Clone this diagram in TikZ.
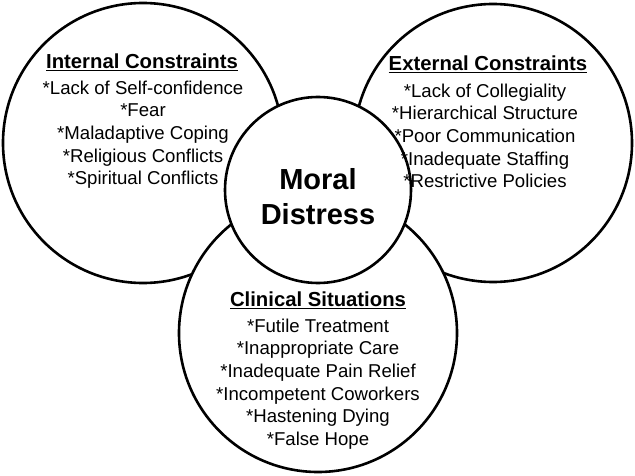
\documentclass[tikz,border=0pt]{standalone}
\usepackage{fontspec}
\setmainfont{Liberation Sans}
\begin{document}
\begin{tikzpicture}[x=1pt,y=-1pt,
  circ/.style={draw=black,line width=2.6pt,fill=white},
  ttl/.style={font=\fontsize{20.3}{22}\selectfont\bfseries},
  itm/.style={font=\fontsize{18.6}{22.7}\selectfont,align=center}]
\useasboundingbox (0,0) rectangle (635,476);
\node[circ,circle,minimum size=280pt] (L) at (143,143) {};
\node[circ,circle,minimum size=278pt] (R) at (493,143) {};
\node[circ,circle,minimum size=278pt] (B) at (318,333) {};
\node[circ,circle,minimum size=186pt] (C) at (318,190) {};
\node[font=\fontsize{29}{35}\selectfont\bfseries,align=center] (m) at (318,197) {Moral\\Distress};
\node[ttl] (lt) at (142,62) {\underline{Internal Constraints}};
\node[itm,anchor=north] (li) at (143,77) {*Lack of Self-confidence\\*Fear\\*Maladaptive Coping\\*Religious Conflicts\\*Spiritual Conflicts};
\node[ttl] (rt) at (488,64) {\underline{External Constraints}};
\node[itm,anchor=north] (ri) at (485,80) {*Lack of Collegiality\\*Hierarchical Structure\\*Poor Communication\\*Inadequate Staffing\\*Restrictive Policies};
\node[ttl] (bt) at (318,300) {\underline{Clinical Situations}};
\node[itm,anchor=north] (bi) at (318,315) {*Futile Treatment\\*Inappropriate Care\\*Inadequate Pain Relief\\*Incompetent Coworkers\\*Hastening Dying\\*False Hope};
\end{tikzpicture}
\end{document}
